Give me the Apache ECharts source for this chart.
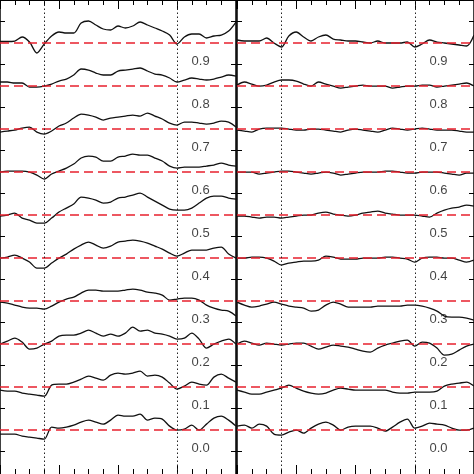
<!DOCTYPE html>
<html>
<head>
<meta charset="utf-8">
<script src="https://cdn.jsdelivr.net/npm/echarts@6/dist/echarts.min.js"></script>
<style>html,body{margin:0;padding:0;background:#fff}#main{width:474px;height:474px}</style>
</head>
<body>
<div id="main"></div>
<script>
// row labels, bottom to top
var rowLabels = ['0.0', '0.1', '0.2', '0.3', '0.4', '0.5', '0.6', '0.7', '0.8', '0.9'];
// x positions (axis units), 33 samples 0..16
var xs = [];
for (var i = 0; i <= 32; i++) xs.push(i * 0.5);
var dottedX = [3, 12];
var rowGap = 43; // deviation values are given in 1/43 of a row

// left panel deviations, rows 0.0 .. 0.9
var left0 = [-4,-4,-4,-6,-7,-8,-9,3,2,3,5,8,10,8,6,10,15,14,14,16,10,12,11,4,0,1,5,0,6,12,14,10,4];
var left1 = [-3,-4,-4,-6,-7,-8,-9,2,3,3,5,8,11,9,7,12,14,13,14,16,11,12,10,4,-2,1,5,3,2,10,13,9,5];
var left2 = [0,3,6,2,-5,-4,0,3,8,9,9,11,14,11,8,10,8,11,17,13,14,11,10,8,5,6,11,5,-4,0,3,5,0];
var left3 = [-1,-2,-4,-6,-7,-7,-8,-5,-1,2,4,8,11,11,10,10,10,11,12,11,9,8,6,1,2,3,3,1,-4,-7,-9,-10,-15];
var left4 = [0,1,3,0,-4,-10,-10,-5,0,4,9,13,16,13,10,12,16,17,18,17,15,12,9,5,2,5,8,8,8,10,11,4,0];
var left5 = [-1,0,2,-3,-5,-8,-8,-3,3,7,11,18,17,15,12,13,17,18,20,22,18,14,10,6,5,5,7,12,17,19,19,17,16];
var left6 = [0,1,1,1,0,-3,-7,-2,1,4,8,14,16,15,11,11,15,16,18,17,17,14,11,6,4,5,5,5,6,7,9,7,6];
var left7 = [-3,-2,-1,1,2,-3,-5,-2,3,6,11,15,14,12,9,11,12,13,14,13,16,13,10,6,4,7,7,6,5,6,8,7,2];
var left8 = [4,4,3,3,-1,-1,0,2,5,7,11,17,16,13,11,11,15,16,17,18,15,12,11,8,4,6,8,7,6,7,9,11,10];
var left9 = [1.5,1.5,2,6,1,-10,-1,7,11,10,10,20,22,18,14,13,17,15,17,21,18,15,12,8,-1,6,9,9,5,7,8,12,21];

// right panel deviations, rows 0.0 .. 0.9
var right0 = [4,5,2,6,4,-4,-5,-2,0,-3,2,6,8,5,0,3,4,4,4,2,-1,3,8,11,2,4,7,6,5,2,0,0,2];
var right1 = [-3,-5,-7,-7,-5,-3,-1,2,-1,-4,-6,-7,-6,-3,-1,-2,-3,-3,-3,-3,-3,-5,-6,-6,-5,-5,-5,-4,1,3,4,5,1];
var right2 = [0,3,1,-1,1,0,-1,0,1,1,-2,-5,-3,-1,-2,-3,-5,-7,-8,-4,-1,1,3,4,-2,2,1,-4,-11,-10,-6,-2,0];
var right3 = [-1,-4,-6,-5,-3,-1,-3,-5,-6,-7,-10,-9,-4,-1,-3,-6,-6,-6,-6,-5,-5,-5,-5,-4,-4,-5,-7,-10,-15,-16,-16,-17,-19];
var right4 = [0,0,1,1,0,-3,-7,-5,-4,-3,-3,-2,2,1,-1,-1,-1,0,0,0,1,1,0,-1,-4,0,1,1,0,0,-2,-4,-2];
var right5 = [-1,-1,-2,-3,-2,-2,-3,-2,-1,0,0,2,3,1,0,-1,0,2,3,4,2,1,0,0,0,-1,-2,2,5,7,8,10,9];
var right6 = [0,0,0,-2,-1,0,1,1,0,-1,-2,-1,0,-1,-3,-2,-1,0,0,0,1,1,0,-1,-1,0,0,0,-1,-2,-3,-1,-1];
var right7 = [-1,-2,-3,0,1,1,1,0,-1,-1,0,0,-1,-2,-3,-1,0,-1,-2,-3,-1,1,0,-1,0,1,0,-1,-1,-1,-2,-3,-3];
var right8 = [1,4,2,0,1,4,6,6,5,2,0,4,2,0,-2,-1,0,1,0,0,0,-2,-1,0,0,1,1,-1,0,1,2,3,0];
var right9 = [3,2,2,2,5,0,-4,7,11,6,2,6,8,4,3,2,2,1,0,2,0,0,0,1,-4,-1,3,1,0,-1,-2,-3,8];

var leftRows = [left0, left1, left2, left3, left4, left5, left6, left7, left8, left9];
var rightRows = [right0, right1, right2, right3, right4, right5, right6, right7, right8, right9];

var myChart = echarts.init(document.getElementById('main'));

var tickVals = [];
for (var k = -1; k <= 9; k++) tickVals.push(k + 0.5);

var grids = [
    { left: 0, width: 236, top: 0, height: 474 },
    { left: 237, width: 237, top: 0, height: 474 }
];

var xAxes = [], yAxes = [];
[0, 1].forEach(function (g) {
    ['bottom', 'top'].forEach(function (pos) {
        xAxes.push({
            gridIndex: g, type: 'value', min: 0, max: 16, interval: 1, position: pos,
            axisLine: { show: true, onZero: false, lineStyle: { color: '#000' } },
            axisTick: { inside: true, length: 5, lineStyle: { color: '#000' } },
            axisLabel: { show: false }, splitLine: { show: false }
        });
        xAxes.push({
            gridIndex: g, type: 'value', min: 0, max: 16, interval: 4, position: pos,
            axisLine: { show: false, onZero: false },
            axisTick: { inside: true, length: 9, lineStyle: { color: '#000' } },
            axisLabel: { show: false }, splitLine: { show: false }
        });
    });
    ['left', 'right'].forEach(function (pos) {
        yAxes.push({
            gridIndex: g, type: 'value', min: -1.02, max: 10, position: pos,
            axisLine: { show: true, onZero: false, lineStyle: { color: '#000', width: 1.5 } },
            axisTick: { inside: true, length: 5, customValues: tickVals, lineStyle: { color: '#000' } },
            axisLabel: { show: false }, splitLine: { show: false }
        });
    });
});

var series = [];
[leftRows, rightRows].forEach(function (rows, g) {
    rows.forEach(function (vals, k) {
        var data = xs.map(function (x, i) { return [x, k + vals[i] / rowGap]; });
        series.push({
            type: 'line', xAxisIndex: g * 4, yAxisIndex: g * 2, data: data,
            symbol: 'none', smooth: 0.3, silent: true,
            lineStyle: { color: '#111', width: 1.3 },
            markLine: {
                silent: true, symbol: 'none', label: { show: false },
                lineStyle: { color: '#e8202e', type: [9, 5], width: 1.5 },
                data: [{ yAxis: k }]
            },
            z: 3
        });
    });
    series.push({
        type: 'line', xAxisIndex: g * 4, yAxisIndex: g * 2, data: [],
        markLine: {
            silent: true, symbol: 'none', label: { show: false },
            lineStyle: { color: '#222', type: [1.5, 2.5], width: 1 },
            data: dottedX.map(function (x) { return { xAxis: x }; })
        }
    });
    series.push({
        type: 'scatter', xAxisIndex: g * 4, yAxisIndex: g * 2, symbolSize: 0, silent: true,
        data: rowLabels.map(function (t, k) { return [13.6, k - 0.42, t]; }),
        label: {
            show: true, position: 'inside',
            formatter: function (p) { return p.value[2]; },
            fontFamily: 'Liberation Sans', fontSize: 13, color: '#111'
        }
    });
});

var option = {
    animation: false,
    grid: grids,
    xAxis: xAxes,
    yAxis: yAxes,
    series: series
};
myChart.setOption(option);
</script>
</body>
</html>
